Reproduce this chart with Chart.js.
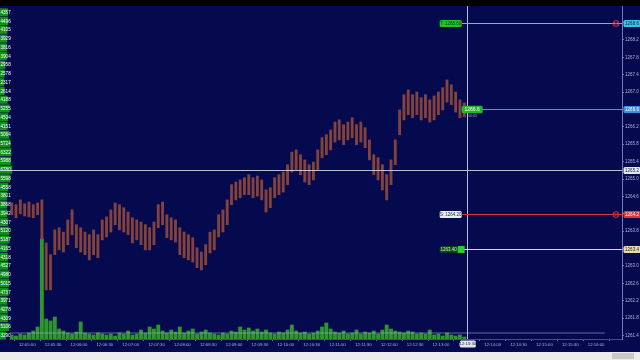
<!DOCTYPE html>
<html><head><meta charset="utf-8">
<script src="https://cdn.jsdelivr.net/npm/chart.js@4.4.1/dist/chart.umd.min.js"></script>
<style>
html,body{margin:0;padding:0;width:640px;height:360px;overflow:hidden;background:#000;}
#plotbg{position:absolute;left:0;top:6px;width:640px;height:346px;background:#050a4e;}
#bottombar{position:absolute;left:0;top:352px;width:640px;height:8px;background:#ececec;}
#scroll{position:absolute;left:612px;top:353px;width:22px;height:6px;background:#c9c9c9;}
#prof{position:absolute;left:0;top:7.5px;}
#main{position:absolute;left:0;top:0;}
</style></head><body>
<div id="plotbg"></div><div id="bottombar"></div><div id="scroll"></div>
<canvas id="prof" width="13" height="332"></canvas>
<canvas id="main" width="640" height="360"></canvas>
<script>
// ---- data ----
const barStartTime = 43482;   // 12:04:42, seconds since midnight
const barSeconds = 5;
const highs = [1264.45,1264.41,1264.52,1264.43,1264.47,1264.41,1264.45,1264.52,1263.53,1263.26,
 1263.83,1263.88,1263.78,1264.06,1264.29,1263.95,1263.88,1263.78,1263.72,1263.83,
 1263.72,1264.06,1264.13,1264.29,1264.45,1264.41,1264.34,1264.24,1264.11,1264.06,
 1264.01,1263.95,1263.88,1264.01,1264.41,1264.47,1264.18,1264.11,1264.06,1263.88,
 1263.78,1263.72,1263.65,1263.42,1263.32,1263.49,1263.78,1263.83,1264.18,1264.29,
 1264.52,1264.87,1264.93,1264.98,1265.03,1265.10,1265.03,1265.07,1264.98,1264.75,
 1264.80,1265.03,1265.10,1265.16,1265.33,1265.62,1265.67,1265.56,1265.44,1265.33,
 1265.39,1265.67,1265.95,1266.02,1266.13,1266.31,1266.36,1266.25,1266.31,1266.41,
 1266.25,1266.31,1266.18,1265.90,1265.56,1265.49,1265.33,1265.10,1265.44,1265.90,
 1266.59,1266.94,1267.05,1266.94,1267.00,1266.87,1266.94,1266.82,1266.91,1267.00,
 1267.10,1267.28,1267.17,1267.00,1266.82,1266.75];
const lows = [1264.18,1264.11,1264.20,1264.15,1264.13,1264.11,1264.18,1263.60,1262.45,1262.45,
 1263.26,1263.37,1263.32,1263.49,1263.72,1263.42,1263.32,1263.26,1263.14,1263.26,
 1263.19,1263.60,1263.67,1263.78,1263.95,1263.83,1263.78,1263.72,1263.53,1263.60,
 1263.49,1263.37,1263.37,1263.49,1263.88,1263.95,1263.65,1263.60,1263.55,1263.26,
 1263.19,1263.14,1263.09,1262.96,1262.91,1263.03,1263.30,1263.37,1263.67,1263.78,
 1263.95,1264.41,1264.52,1264.57,1264.64,1264.64,1264.57,1264.61,1264.52,1264.24,
 1264.34,1264.57,1264.64,1264.70,1264.87,1265.16,1265.21,1265.10,1264.93,1264.87,
 1264.98,1265.21,1265.49,1265.56,1265.67,1265.85,1265.90,1265.79,1265.90,1265.95,
 1265.79,1265.85,1265.72,1265.44,1265.10,1264.98,1264.75,1264.52,1264.87,1265.33,
 1266.02,1266.36,1266.48,1266.41,1266.48,1266.36,1266.41,1266.31,1266.36,1266.48,
 1266.59,1266.77,1266.71,1266.54,1266.41,1266.43];
const volumes = [80,60,100,80,120,160,240,2000,400,360,
 440,200,160,120,100,140,340,120,100,80,
 120,100,80,100,60,120,100,160,80,100,
 180,120,240,200,280,160,120,180,140,240,
 120,160,200,100,140,180,120,100,80,120,
 100,160,140,240,180,220,160,200,140,180,
 120,100,140,120,180,280,160,120,140,100,
 120,160,240,320,200,140,120,160,100,120,
 180,100,140,120,160,100,180,280,200,160,
 140,120,160,140,100,120,100,180,80,100,
 60,120,80,60,80,40];
const volumeAverage = 120;
const profileVolumes = [4357,4496,4105,3929,3816,3904,2958,2578,2317,2614,4188,5255,4504,4151,5064,5724,6322,5988,6780,5598,
 4558,3801,3868,3942,4307,5120,5187,4165,4318,4527,4980,5015,4737,3971,4278,4309,5106,3290];
const priceTicks = [1261.4,1261.8,1262.2,1262.6,1263.0,1263.4,1263.8,1264.2,1264.6,1265.0,1265.4,1265.8,1266.2,1266.6,1267.0,1267.4,1267.8,1268.2,1268.6];
const timeTickLabels = ['12:05:00','12:05:30','12:06:00','12:06:30','12:07:00','12:07:30','12:08:00','12:08:30','12:09:00','12:09:30',
 '12:10:00','12:10:30','12:11:00','12:11:30','12:12:00','12:12:30','12:13:00','12:13:30','12:14:00','12:14:30','12:15:00','12:15:30','12:16:00'];
const targetPrice = 1268.6, lastPrice = 1266.6, cursorPrice = 1265.2, stopPrice = 1264.2, entryPrice = 1263.4;
const cursorTime = 44010, orderLineTime = 44004;
const timeMin = 43480, timeMax = 44190, priceMin = 1261.32, priceMax = 1268.98;

// ---- helpers ----
const toSec = s => { const p = s.split(':').map(Number); return p[0]*3600+p[1]*60+p[2]; };
const fmtTime = t => { const h=Math.floor(t/3600), m=Math.floor(t%3600/60), s=Math.round(t%60);
  return h+':'+String(m).padStart(2,'0')+':'+String(s).padStart(2,'0'); };
const timeTicks = timeTickLabels.map(toSec);
const barTimes = highs.map((_, i) => barStartTime + i*barSeconds);
const FONT = '"Liberation Sans", Arial, sans-serif';
const AX = '#a9b2da';

// ---- volume profile column ----
const profileLabels = {
  id:'profileLabels',
  afterDatasetsDraw(chart){
    const {ctx, scales:{y}} = chart;
    ctx.save();
    ctx.fillStyle = '#ffffff'; ctx.font = '4.6px ' + FONT; ctx.textAlign = 'left'; ctx.textBaseline = 'middle';
    chart.data.labels.forEach((lab, i) => ctx.fillText(lab, 0.5, y.getPixelForValue(i) + 0.3));
    ctx.restore();
  }
};
new Chart(document.getElementById('prof'), {
  type:'bar',
  data:{labels: profileVolumes.map(String), datasets:[{data: profileVolumes, backgroundColor:'#12901e', barPercentage:0.92, categoryPercentage:1}]},
  options:{indexAxis:'y', responsive:false, animation:false, devicePixelRatio:1, layout:{padding:0},
    plugins:{legend:{display:false}, tooltip:{enabled:false}},
    scales:{
      x:{display:false, min:0, max:7200},
      y:{display:false}
    }},
  plugins:[profileLabels]
});

// ---- overlay plugin: order lines, crosshair, axis price boxes ----
const overlay = {
  id:'overlay',
  afterDatasetsDraw(chart){
    const {ctx, chartArea:a, scales:{x, y}} = chart;
    const X = v => x.getPixelForValue(v), Y = v => Math.round(y.getPixelForValue(v)) + 0.5;
    ctx.save();
    const box = (x0, yc, w, h, bg, fg, text, size) => {
      ctx.fillStyle = bg; ctx.beginPath();
      if (ctx.roundRect) ctx.roundRect(x0, yc - h/2, w, h, 1.5); else ctx.rect(x0, yc - h/2, w, h);
      ctx.fill();
      ctx.fillStyle = fg; ctx.font = (size||4.5) + 'px ' + FONT; ctx.textAlign = 'center'; ctx.textBaseline = 'middle';
      ctx.fillText(text, x0 + w/2, yc + 0.3);
    };
    const hline = (v, x0, x1, color, w) => {
      ctx.strokeStyle = color; ctx.lineWidth = w || 1; ctx.beginPath();
      ctx.moveTo(x0, Y(v)); ctx.lineTo(x1, Y(v)); ctx.stroke();
    };
    const xmark = (px, v) => {
      const py = Y(v);
      ctx.strokeStyle = '#c0303a'; ctx.lineWidth = 1;
      ctx.beginPath(); ctx.arc(px, py, 3, 0, Math.PI*2); ctx.stroke();
      ctx.beginPath(); ctx.moveTo(px-2.5, py-2.5); ctx.lineTo(px+2.5, py+2.5);
      ctx.moveTo(px+2.5, py-2.5); ctx.lineTo(px-2.5, py+2.5); ctx.stroke();
    };
    const lx = X(orderLineTime);
    // crosshair
    ctx.strokeStyle = 'rgba(215,220,240,0.85)'; ctx.lineWidth = 1;
    ctx.beginPath(); ctx.moveTo(Math.round(X(cursorTime)) + 0.5, a.top); ctx.lineTo(Math.round(X(cursorTime)) + 0.5, a.bottom); ctx.stroke();
    hline(cursorPrice, 0, a.right, 'rgba(215,220,240,0.85)');
    // order / level lines
    hline(targetPrice, lx, a.right, '#4cc6ec');
    hline(lastPrice, lx, a.right, 'rgba(120,150,215,0.9)');
    hline(stopPrice, lx, a.right, '#e0343c');
    hline(entryPrice, lx, a.right, '#e6d8b4');
    // left labels
    box(lx - 22, Y(targetPrice), 22, 7, '#22c426', '#043a06', 'T: ' + targetPrice.toFixed(2));
    box(lx, Y(lastPrice), 21, 7.5, '#1fb62a', '#ffffff', lastPrice.toFixed(1), 5);
    ctx.fillStyle = '#9aa2c8'; ctx.font = '3.5px ' + FONT; ctx.textAlign = 'center';
    ctx.fillText('00:05', lx + 11, Y(lastPrice) + 7);
    box(lx - 22, Y(stopPrice), 22, 7, '#e8ecf4', '#1a2050', 'S: ' + stopPrice.toFixed(2));
    box(lx - 22, Y(entryPrice), 18, 6.5, '#0e4a14', '#cfe8cf', entryPrice.toFixed(2));
    ctx.fillStyle = '#25d02c'; ctx.fillRect(lx - 4, Y(entryPrice) - 3.5, 7, 7);
    // X markers
    xmark(a.right - 6, targetPrice);
    xmark(a.right - 6, stopPrice);
    // right axis price boxes
    const rx = a.right + 1.5, rw = 17;
    box(rx, Y(targetPrice), rw, 7, '#3fc0e4', '#06204a', targetPrice.toFixed(1));
    box(rx, Y(lastPrice), rw, 7, '#3d8fe6', '#ffffff', lastPrice.toFixed(1));
    box(rx, Y(cursorPrice), rw, 7, '#e4e6ee', '#1a2050', cursorPrice.toFixed(1));
    box(rx, Y(stopPrice), rw, 7, '#e4323a', '#ffffff', stopPrice.toFixed(1));
    box(rx, Y(entryPrice), rw, 7, '#ead9b2', '#2a2a20', entryPrice.toFixed(1));
    // bottom time box
    box(X(cursorTime) - 7, a.bottom + 5, 16, 7, '#e4e6ee', '#1a2050', fmtTime(cursorTime), 4.3);
    ctx.restore();
  }
};

new Chart(document.getElementById('main'), {
  data:{
    datasets:[
      {type:'bar', label:'Price', data: barTimes.map((t,i)=>({x:t, y:[lows[i], highs[i]]})),
       backgroundColor:'rgba(150,74,58,0.88)', borderWidth:0,
       barThickness:2.2, grouped:false, yAxisID:'y', order:1},
      {type:'bar', label:'Volume', data: barTimes.map((t,i)=>({x:t, y:volumes[i]})),
       backgroundColor:'#2f962f', barThickness:3.2, grouped:false, yAxisID:'yv', order:3},
      {type:'line', label:'Avg volume', data:[{x:timeMin, y:volumeAverage},{x:44170, y:volumeAverage}],
       borderColor:'rgba(170,180,215,0.55)', borderWidth:1, pointRadius:0, yAxisID:'yv', order:2}
    ]
  },
  options:{
    responsive:false, animation:false, devicePixelRatio:1,
    layout:{padding:{left:10, top:6, right:0, bottom:8}},
    plugins:{legend:{display:false}, tooltip:{enabled:false}},
    scales:{
      x:{type:'linear', min:timeMin, max:timeMax, offset:false,
         afterBuildTicks(s){ s.ticks = timeTicks.map(v=>({value:v})); },
         afterFit(s){ s.height = 13; },
         ticks:{callback:v=>fmtTime(v), color:AX, font:{size:4.3, family:FONT}, maxRotation:0, autoSkip:false, padding:1},
         grid:{drawOnChartArea:false, tickLength:2, color:'rgba(150,160,210,0.7)'},
         border:{display:true, color:'rgba(150,160,210,0.45)'}},
      y:{type:'linear', position:'right', min:priceMin, max:priceMax,
         afterBuildTicks(s){ s.ticks = priceTicks.map(v=>({value:v})); },
         afterFit(s){ s.width = 18; },
         ticks:{callback:v=>v.toFixed(1), color:AX, font:{size:4.5, family:FONT}, padding:1},
         grid:{drawOnChartArea:false, tickLength:2, color:'rgba(150,160,210,0.7)'},
         border:{display:true, color:'rgba(150,160,215,0.75)'}},
      yv:{type:'linear', display:false, min:0, max:6660}
    }
  },
  plugins:[overlay]
});
</script>
</body></html>
